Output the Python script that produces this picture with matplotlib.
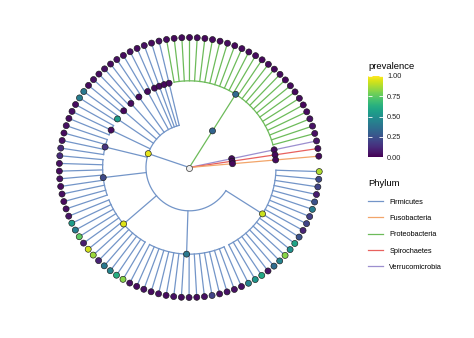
import numpy as np
import matplotlib
matplotlib.use("Agg")
import matplotlib.pyplot as plt
from matplotlib.lines import Line2D
from matplotlib.colors import Normalize
from matplotlib.cm import ScalarMappable

plt.rcParams['font.family'] = ['Liberation Sans', 'DejaVu Sans']

# ---------------- data ----------------
# phyla in tip order around the circle
phyla = ["Firmicutes", "Proteobacteria", "Verrucomicrobia", "Spirochaetes", "Fusobacteria"]
legend_phyla = ["Firmicutes", "Fusobacteria", "Proteobacteria", "Spirochaetes", "Verrucomicrobia"]
phylum_colors = {
    "Firmicutes": "#7395C8",
    "Fusobacteria": "#F2A56A",
    "Proteobacteria": "#6DBB5A",
    "Spirochaetes": "#E8615E",
    "Verrucomicrobia": "#9C8FCF",
}

# number of tips under each second-level node, per phylum (tip order)
group_sizes = {
    "Firmicutes": [19, 16, 12, 8, 4, 3, 2, 2, 2, 2, 2, 1, 1, 1, 1],
    "Proteobacteria": [26],
    "Verrucomicrobia": [1],
    "Spirochaetes": [1],
    "Fusobacteria": [1],
}

phylum_prev = {
    "Firmicutes": 0.96,
    "Proteobacteria": 0.32,
    "Verrucomicrobia": 0.03,
    "Spirochaetes": 0.02,
    "Fusobacteria": 0.02,
}

group_prev = {
    "Firmicutes": [0.92, 0.40, 0.95, 0.22, 0.15, 0.03, 0.55, 0.02, 0.03, 0.02, 0.03, 0.02, 0.03, 0.02, 0.03],
    "Proteobacteria": [0.34],
    "Verrucomicrobia": [0.03],
    "Spirochaetes": [0.02],
    "Fusobacteria": [0.02],
}

tip_prev = [
    # 1-27
    0.88, 0.22, 0.20, 0.08, 0.25, 0.42, 0.18, 0.20, 0.10, 0.25,
    0.58, 0.50, 0.82, 0.45, 0.35, 0.05, 0.60, 0.52, 0.45, 0.04,
    0.04, 0.05, 0.04, 0.20, 0.04, 0.03, 0.04,
    # 28-53
    0.03, 0.04, 0.03, 0.04, 0.03, 0.04, 0.03, 0.04, 0.82, 0.62,
    0.45, 0.40, 0.10, 0.85, 0.93, 0.08, 0.75, 0.42, 0.55, 0.05,
    0.04, 0.03, 0.04, 0.03, 0.04, 0.03,
    # 54-80
    0.04, 0.12, 0.12, 0.04, 0.03, 0.04, 0.03, 0.04, 0.03, 0.42,
    0.40, 0.03, 0.04, 0.03, 0.04, 0.03, 0.04, 0.03, 0.04, 0.03,
    0.04, 0.03, 0.04, 0.03, 0.02, 0.03, 0.02,
    # 81-105
    0.03, 0.02, 0.03, 0.02, 0.03, 0.02, 0.03, 0.02, 0.03, 0.02,
    0.03, 0.02, 0.03, 0.02, 0.03, 0.02, 0.03, 0.02, 0.03, 0.04,
    0.05, 0.04, 0.06, 0.03, 0.03,
]

# ---------------- figure ----------------
W, H = 474, 338
fig = plt.figure(figsize=(W / 100, H / 100), dpi=100)
cx, cy, rad = 189.3, 167.5, 143.0
ax = fig.add_axes([(cx - rad) / W, (H - cy - rad) / H, 2 * rad / W, 2 * rad / H],
                  projection='polar')
ax.set_theta_direction(-1)
ax.set_theta_offset(np.deg2rad(1.6))
ax.set_rlim(0, 3.3)
ax.axis('off')

cmap = plt.get_cmap('viridis')
norm = Normalize(0, 1)

n_tips = len(tip_prev)
n_slots = n_tips + 1


def th(y):
    return 2 * np.pi * np.asarray(y, dtype=float) / n_slots


lw = 0.9
pt_size = 19
edge = dict(edgecolors='#1a1a1a', linewidths=0.45, zorder=4)

tip_y = np.arange(1, n_tips + 1)
cursor = 0
pts_t, pts_r, pts_c = [], [], []
for ph in phyla:
    col = phylum_colors[ph]
    groups = []
    for s in group_sizes[ph]:
        ys = tip_y[cursor:cursor + s]
        cursor += s
        groups.append(ys)
    gys = [g.mean() for g in groups]
    py = np.mean(gys)
    # root -> phylum
    ax.plot([th(py), th(py)], [0, 1], color=col, lw=lw, zorder=1)
    # phylum arc
    if len(gys) > 1:
        a = np.linspace(th(min(gys)), th(max(gys)), 200)
        ax.plot(a, np.full_like(a, 1.0), color=col, lw=lw, zorder=1)
    pts_t.append(th(py)); pts_r.append(1); pts_c.append(phylum_prev[ph])
    for gi, (ys, gy) in enumerate(zip(groups, gys)):
        ax.plot([th(gy), th(gy)], [1, 2], color=col, lw=lw, zorder=1)
        if len(ys) > 1:
            a = np.linspace(th(ys.min()), th(ys.max()), 100)
            ax.plot(a, np.full_like(a, 2.0), color=col, lw=lw, zorder=1)
        pts_t.append(th(gy)); pts_r.append(2); pts_c.append(group_prev[ph][gi])
        for y in ys:
            ax.plot([th(y), th(y)], [2, 3], color=col, lw=lw, zorder=1)
            pts_t.append(th(y)); pts_r.append(3); pts_c.append(tip_prev[y - 1])

ax.scatter(pts_t, pts_r, c=pts_c, cmap=cmap, norm=norm, s=pt_size, **edge)
# root (no value)
ax.scatter([0], [0], color='#eeeeee', s=pt_size, edgecolors='#555555', linewidths=0.6, zorder=5)

# ---------------- colour bar ----------------
cax = fig.add_axes([368 / W, 1 - 157 / H, 15 / W, 81 / H])
sm = ScalarMappable(norm=norm, cmap=cmap)
cb = fig.colorbar(sm, cax=cax, ticks=[0, 0.25, 0.5, 0.75, 1.0])
cb.ax.set_yticklabels(["0.00", "0.25", "0.50", "0.75", "1.00"])
cb.outline.set_visible(False)
cax.tick_params(direction='in', length=3, width=0.6, color='white', left=True, right=True,
                labelsize=5.3, labelcolor='#222222', pad=3)
fig.text(368 / W, 1 - 66.5 / H, "prevalence", fontsize=6.8, va='center', ha='left')

# ---------------- phylum legend ----------------
fig.text(368 / W, 1 - 183 / H, "Phylum", fontsize=6.8, va='center', ha='left')
handles = [Line2D([], [], color=phylum_colors[p], lw=lw) for p in legend_phyla]
leg = fig.legend(handles, legend_phyla, loc='upper left', bbox_to_anchor=(368 / W, 1 - 198.5 / H),
                 frameon=False, fontsize=5.3,
                 handlelength=2.0, handletextpad=0.9, labelspacing=1.25,
                 borderpad=0, borderaxespad=0)

fig.savefig("out.png", dpi=100, facecolor='white')
